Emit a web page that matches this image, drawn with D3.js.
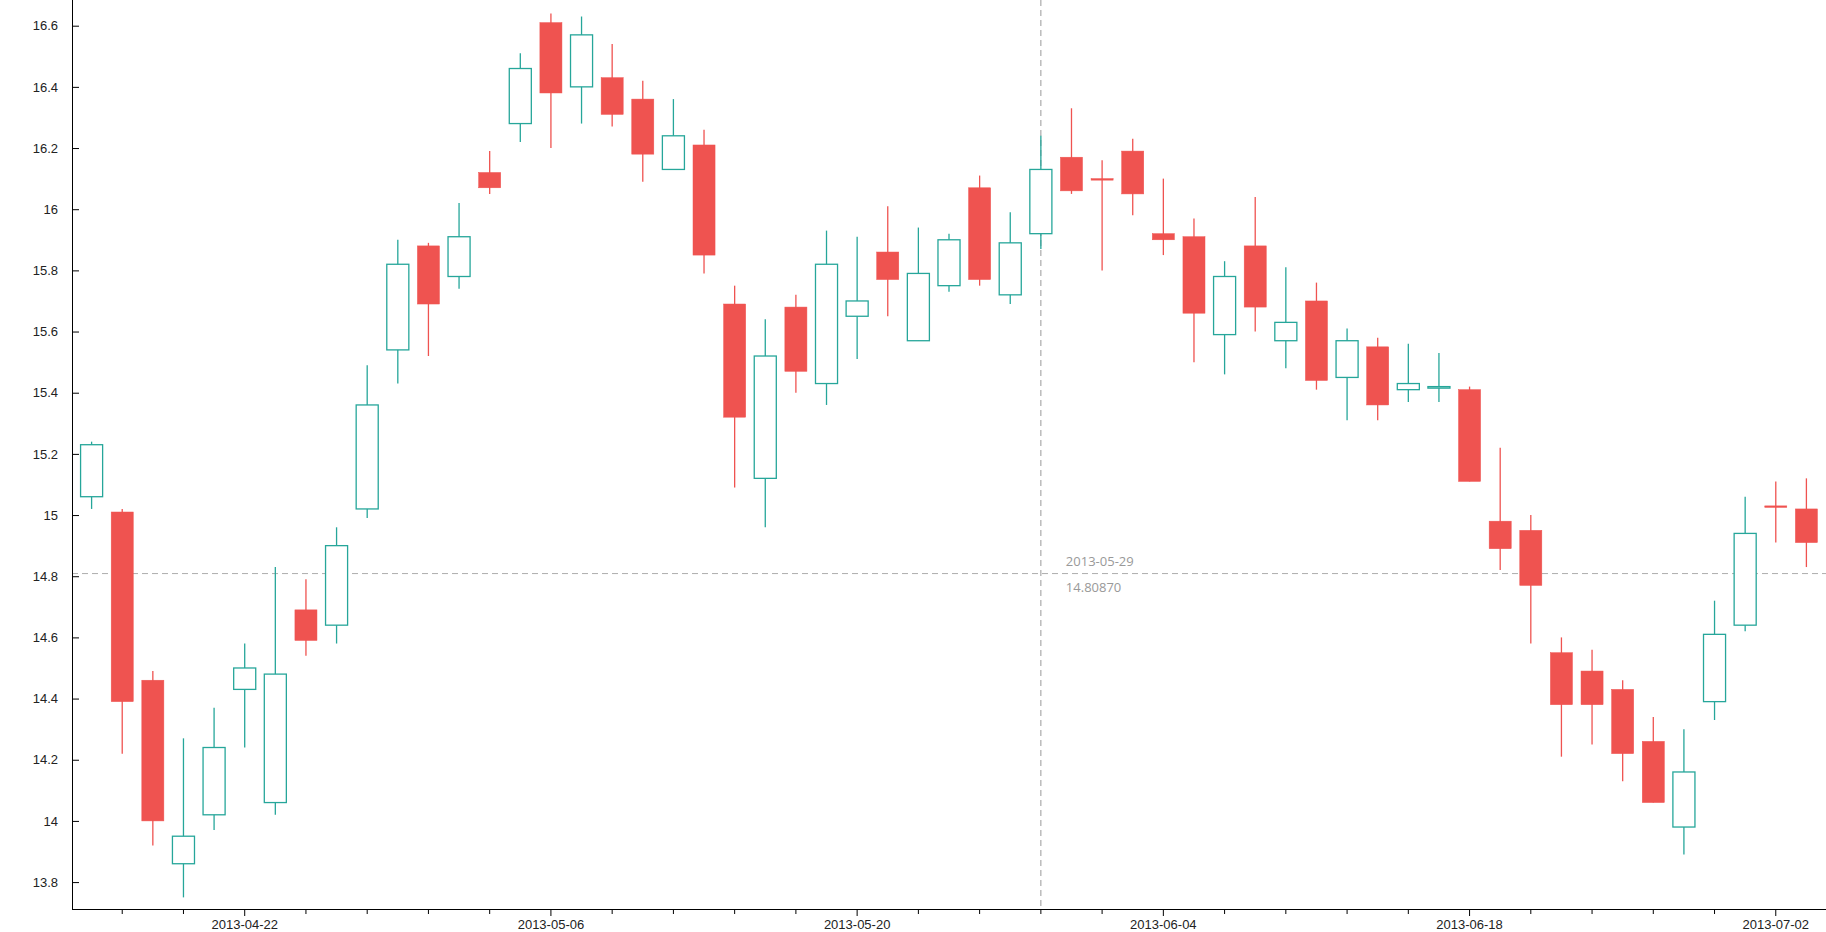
<!DOCTYPE html>
<html><head><meta charset="utf-8">
<script src="https://cdn.jsdelivr.net/npm/d3@7"></script>
<style>body{margin:0;background:#fff}svg{display:block;font-family:"Open Sans",sans-serif}</style>
</head><body><svg id="c" width="1826" height="932"></svg>
<script>
const dates = ["2013-04-15","2013-04-16","2013-04-17","2013-04-18","2013-04-19","2013-04-22","2013-04-23","2013-04-24","2013-04-25","2013-04-26","2013-04-29","2013-04-30","2013-05-01","2013-05-02","2013-05-03","2013-05-06","2013-05-07","2013-05-08","2013-05-09","2013-05-10","2013-05-13","2013-05-14","2013-05-15","2013-05-16","2013-05-17","2013-05-20","2013-05-21","2013-05-22","2013-05-23","2013-05-24","2013-05-28","2013-05-29","2013-05-30","2013-05-31","2013-06-03","2013-06-04","2013-06-05","2013-06-06","2013-06-07","2013-06-10","2013-06-11","2013-06-12","2013-06-13","2013-06-14","2013-06-17","2013-06-18","2013-06-19","2013-06-20","2013-06-21","2013-06-24","2013-06-25","2013-06-26","2013-06-27","2013-06-28","2013-07-01","2013-07-02","2013-07-03"];
const open  = [15.06,15.01,14.46,13.86,14.02,14.43,14.06,14.69,14.64,15.02,15.54,15.88,15.78,16.12,16.28,16.61,16.40,16.43,16.36,16.13,16.21,15.69,15.12,15.68,15.43,15.65,15.86,15.57,15.75,16.07,15.72,15.92,16.17,16.10,16.19,15.92,15.91,15.59,15.88,15.57,15.70,15.45,15.55,15.41,15.415,15.41,14.98,14.95,14.55,14.49,14.43,14.26,13.98,14.39,14.64,15.03,15.02];
const close = [15.23,14.39,14.00,13.95,14.24,14.50,14.48,14.59,14.90,15.36,15.82,15.69,15.91,16.07,16.46,16.38,16.57,16.31,16.18,16.24,15.85,15.32,15.52,15.47,15.82,15.70,15.77,15.79,15.90,15.77,15.89,16.13,16.06,16.095,16.05,15.90,15.66,15.78,15.68,15.63,15.44,15.57,15.36,15.43,15.42,15.11,14.89,14.77,14.38,14.38,14.22,14.06,14.16,14.61,14.94,15.025,14.91];
const high  = [15.24,15.02,14.49,14.27,14.37,14.58,14.83,14.79,14.96,15.49,15.90,15.89,16.02,16.19,16.51,16.64,16.63,16.54,16.42,16.36,16.26,15.75,15.64,15.72,15.93,15.91,16.01,15.94,15.92,16.11,15.99,16.24,16.33,16.16,16.23,16.10,15.97,15.83,16.04,15.81,15.76,15.61,15.58,15.56,15.53,15.42,15.22,15.00,14.60,14.56,14.46,14.34,14.30,14.72,15.06,15.11,15.12];
const low   = [15.02,14.22,13.92,13.75,13.97,14.24,14.02,14.54,14.58,14.99,15.43,15.52,15.74,16.05,16.22,16.20,16.28,16.27,16.09,16.13,15.79,15.09,14.96,15.40,15.36,15.51,15.65,15.57,15.73,15.75,15.69,15.87,16.05,15.80,15.98,15.85,15.50,15.46,15.60,15.48,15.41,15.31,15.31,15.37,15.37,15.11,14.82,14.58,14.21,14.25,14.13,14.06,13.89,14.33,14.62,14.91,14.83];
const yTicks = [13.8,14,14.2,14.4,14.6,14.8,15,15.2,15.4,15.6,15.8,16,16.2,16.4,16.6];
const crossDate = "2013-05-29", crossValue = 14.80870;

const W=1826,H=932,L=72,B=909;
const svg=d3.select("#c");
const x=d3.scaleBand().domain(dates).range([L,W]).padding(0.28);
const y=d3.scaleLinear().domain([13.712,16.684]).range([B,0]);
const cx=d=>x(d)+x.bandwidth()/2;
const RED="#ef5350",GREEN="#26a69a";

// crosshair
svg.append("line").attr("x1",cx(crossDate)).attr("x2",cx(crossDate)).attr("y1",0).attr("y2",B)
  .attr("stroke","#999").attr("stroke-dasharray","6,4");
svg.append("line").attr("x1",L).attr("x2",W).attr("y1",y(crossValue)).attr("y2",y(crossValue))
  .attr("stroke","#999").attr("stroke-dasharray","6,4").attr("opacity",0.8);

const idx=d3.range(dates.length);
const g=svg.append("g");
idx.forEach(i=>{
  const up=close[i]>open[i], col=up?GREEN:RED;
  g.append("line").attr("x1",cx(dates[i])).attr("x2",cx(dates[i]))
    .attr("y1",y(high[i])).attr("y2",y(low[i])).attr("stroke",col).attr("stroke-width",1.3);
  const top=y(Math.max(open[i],close[i])), h=Math.max(1,Math.abs(y(open[i])-y(close[i])));
  g.append("rect").attr("x",x(dates[i])).attr("width",x.bandwidth()).attr("y",top).attr("height",h)
    .attr("fill",up?"#fff":RED).attr("stroke",col).attr("stroke-width",up?1.3:0.5);
});

// axes
const xa=svg.append("g").attr("transform",`translate(0,${B})`)
  .call(d3.axisBottom(x).tickValues(dates.filter((d,i)=>i%2===1)).tickSize(5)
    .tickFormat((d,)=>{const i=dates.indexOf(d);return (i-5)%10===0?d:"";}));
xa.selectAll(".tick").filter(d=>(dates.indexOf(d)-5)%10===0).select("line").attr("y2",7);
xa.selectAll(".tick line").attr("transform",null);
xa.select(".domain").attr("d",`M${L},0.5H${W}`);
xa.selectAll("text").attr("font-size",13).attr("fill","#222").attr("dy","0.9em");
const ya=svg.append("g").attr("transform",`translate(${L},0)`)
  .call(d3.axisLeft(y).tickValues(yTicks).tickSize(-7).tickPadding(14).tickFormat(d3.format("~g")));
ya.select(".domain").attr("d",`M0.5,0V${B}`);
ya.selectAll("text").attr("font-size",13).attr("fill","#222");

svg.append("text").attr("x",cx(crossDate)+25).attr("y",y(crossValue)-8).text(crossDate)
  .attr("font-size",13).attr("fill","#999");
svg.append("text").attr("x",cx(crossDate)+25).attr("y",y(crossValue)+18).text(crossValue.toFixed(5))
  .attr("font-size",13).attr("fill","#999");
</script></body></html>
